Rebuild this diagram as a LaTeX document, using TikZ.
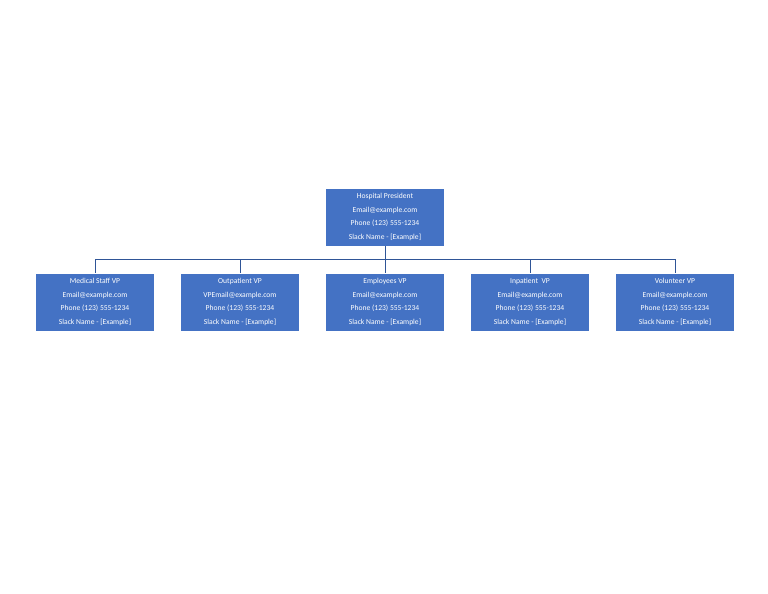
\documentclass[tikz,border=0pt]{standalone}
\usepackage{fontspec}
\setmainfont{Carlito}
\definecolor{boxblue}{HTML}{4472C4}
\definecolor{linkblue}{HTML}{2F5597}
\begin{document}
\begin{tikzpicture}[x=1pt,y=-1pt,
  card/.style={fill=boxblue,draw=white,line width=0.6pt,minimum width=119pt,minimum height=58pt,text=white,align=center,font=\fontsize{7.6}{13.4}\selectfont,inner sep=0pt},
  link/.style={draw=linkblue,line width=0.8pt}]
\useasboundingbox (0,0) rectangle (768,594);
\node[card] (p) at (385,217) {Hospital President\\Email@example.com\\Phone (123) 555-1234\\Slack Name - [Example]};
\node[card] (a) at (95,302) {Medical Staff VP\\Email@example.com\\Phone (123) 555-1234\\Slack Name - [Example]};
\node[card] (b) at (240,302) {Outpatient VP\\VPEmail@example.com\\Phone (123) 555-1234\\Slack Name - [Example]};
\node[card] (c) at (385,302) {Employees VP\\Email@example.com\\Phone (123) 555-1234\\Slack Name - [Example]};
\node[card] (d) at (530,302) {Inpatient\ \ VP\\Email@example.com\\Phone (123) 555-1234\\Slack Name - [Example]};
\node[card] (e) at (675,302) {Volunteer VP\\Email@example.com\\Phone (123) 555-1234\\Slack Name - [Example]};
\coordinate (j) at (385,259);
\draw[link] (p.south) -- (j);
\foreach \n in {a,b,c,d,e}{\draw[link] (j) -| (\n.north);}
\end{tikzpicture}
\end{document}
